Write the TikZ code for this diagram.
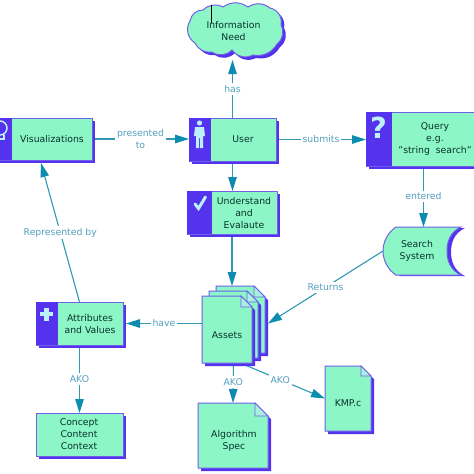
\documentclass[tikz,border=0pt]{standalone}
\usepackage{fontspec}
\setmainfont{DejaVu Sans}
\usetikzlibrary{arrows.meta,backgrounds,shadows}
\definecolor{mint}{RGB}{140,246,198}
\definecolor{violet}{RGB}{84,50,238}
\definecolor{edge}{RGB}{112,96,232}
\definecolor{teal}{RGB}{48,152,180}
\definecolor{tip}{RGB}{14,140,176}
\definecolor{tagtext}{RGB}{84,160,190}
\definecolor{inktext}{RGB}{8,50,44}
\definecolor{icon}{RGB}{190,240,250}
\definecolor{fold}{RGB}{170,240,225}
\tikzset{
  card/.style={draw=edge, line width=1pt, fill=mint, inner sep=0pt, outer sep=0pt,
    copy shadow={shadow xshift=3pt, shadow yshift=-3pt, fill=violet, draw=none}},
  tab/.style={fill=violet},
  hold/.style={inner sep=0pt, outer sep=0pt},
  words/.style={text=inktext, align=center, inner sep=0pt, font=\fontsize{9.3}{12}\selectfont},
  link/.style={draw=teal, line width=1.1pt, -{Triangle[length=14pt,width=8.5pt,color=tip]}},
  tag/.style={fill=white, text=tagtext, align=center, inner sep=2pt, font=\fontsize{9.3}{12}\selectfont},
  glyph/.style={draw=icon, line cap=round},
}
\newcommand{\docsheet}[5]{%
  \fill[violet] (#1+3,#2+3) -- (#3-#5+3,#2+3) -- (#3+3,#2+#5+3) -- (#3+3,#4+3) -- (#1+3,#4+3) -- cycle;
  \draw[edge, fill=mint, line width=1pt] (#1,#2) -- (#3-#5,#2) -- (#3,#2+#5) -- (#3,#4) -- (#1,#4) -- cycle;
  \draw[edge, fill=fold, line width=0.8pt] (#3-#5,#2) -- (#3-#5,#2+#5) -- (#3,#2+#5) -- cycle;
}
\newcommand{\searchoutline}{(396,227) -- (461,227) .. controls (450,232) and (447,242) .. (447,251) .. controls (447,260) and (450,270) .. (461,275) -- (396,275) .. controls (388,270) and (383,260) .. (383,251) .. controls (383,242) and (388,232) .. (396,227) -- cycle}
\newcommand{\cloudoutline}{(190,21) to[bend left=40] (203,10) to[bend left=35] (223,7) to[bend left=35] (248,7) to[bend left=35] (270,8) to[bend left=45] (281,25) to[bend left=40] (277,44) to[bend left=35] (253,55) to[bend left=40] (232,50) to[bend left=40] (212,52) to[bend left=35] (195,43) to[bend left=45] (190,21) -- cycle}

\begin{document}
\begin{tikzpicture}[x=1pt, y=-1pt]
  \useasboundingbox (0,0) rectangle (474,474);
  \clip (0,0) rectangle (474,474);
  %% 1. Cloud
  \fill[violet, shift={(3,3)}] \cloudoutline;
  \draw[edge, fill=mint, line width=1pt] \cloudoutline;
  \node[hold, minimum width=95pt, minimum height=52pt] (need) at (234.5,31) {};
  \node[words] (needtext) at (233.5,31) {Information\\Need};
  \draw[black, line width=0.8pt] (211,5) -- (211,23);
  %% 2. Boxes with a tab
  \node[card, minimum width=102pt, minimum height=42pt] (vis) at (41,139) {};
  \fill[tab] (vis.north west) rectangle (12,160);
  \node[words] (vistext) at (52,139.5) {Visualizations};
  \draw[glyph, line width=1.5pt] (0,128) circle (7pt);
  \draw[glyph, line width=1.5pt] (-2,135) -- (-2,139) -- (4,139) -- (4,135);

  \node[card, minimum width=87pt, minimum height=43pt] (user) at (232.5,139.5) {};
  \fill[tab] (user.north west) rectangle (211,161);
  \node[words] (usertext) at (243,139.5) {User};
  \fill[icon] (199.5,123) circle (2.6pt);
  \fill[icon] (195,127) -- (204,127) -- (205,136) -- (203,136) -- (203,148) -- (200,148) -- (200,138)
    -- (199,138) -- (199,148) -- (196,148) -- (196,136) -- (194,136) -- cycle;

  \node[card, minimum width=115pt, minimum height=54pt] (query) at (423.5,139) {};
  \fill[tab] (query.north west) rectangle (392,166);
  \node[words] (querytext) at (435,139.5) {Query\\e.g.\\"string\ \ search"};
  \node[hold, text=icon, font=\fontsize{29}{29}\selectfont\bfseries] (querymark) at (378.5,128) {?};

  \node[card, minimum width=90pt, minimum height=43pt] (understand) at (232,212.5) {};
  \fill[tab] (understand.north west) rectangle (212,234);
  \node[words] (understandtext) at (244,213) {Understand\\and\\Evalaute};
  \draw[glyph, line width=3pt] (195,204) -- (198.5,208.5) -- (205.5,197);

  \node[card, minimum width=87pt, minimum height=43pt] (attr) at (79.5,323.5) {};
  \fill[tab] (attr.north west) rectangle (58,345);
  \node[words] (attrtext) at (90,324) {Attributes\\and Values};
  \draw[glyph, line width=4.5pt, line cap=butt] (40,314) -- (53,314);
  \draw[glyph, line width=4.5pt, line cap=butt] (46.5,307.5) -- (46.5,320.5);

  \node[card, minimum width=87pt, minimum height=43pt] (concept) at (79.5,434.5) {};
  \node[words] (concepttext) at (79,434) {Concept\\Content\\Context};
  %% 3. Search system
  \fill[violet, shift={(4,1)}] \searchoutline;
  \draw[edge, fill=mint, line width=1pt] \searchoutline;
  \node[hold, minimum width=82pt, minimum height=48pt] (search) at (424,251) {};
  \node[words] (searchtext) at (417,250.5) {Search\\System};
  %% 4. Sheets
  \docsheet{216}{286}{265}{353}{11}
  \docsheet{209}{291}{258}{358}{11}
  \docsheet{202}{296}{252}{363}{11}
  \node[hold, minimum width=63pt, minimum height=75pt] (assets) at (233.5,323.5) {};
  \node[words] (assetstext) at (227,335) {Assets};
  \docsheet{198}{403}{268}{468}{13}
  \node[hold, minimum width=70pt, minimum height=65pt] (algo) at (233,435.5) {};
  \node[words] (algotext) at (234,441) {Algorithm\\Spec};
  \docsheet{325}{366}{371}{431}{10}
  \node[hold, minimum width=46pt, minimum height=65pt] (kmp) at (348,398.5) {};
  \node[words] (kmptext) at (348,403) {KMP.c};
  %% 5. Connectors
  \begin{scope}[on background layer]
    \draw[link] (user.north) -- node[tag] {has} ([yshift=-3pt]user.north |- need.south);
    \draw[link] (vis.east) -- node[tag] {presented\\to} (user.west |- vis.east);
    \draw[link] (user.east) -- node[tag] {submits} (query.west |- user.east);
    \draw[link] (user.south) -- (user.south |- understand.north);
    \draw[link] (understand.south) -- (understand.south |- assets.north);
    \draw[link] (query.south) -- node[tag] {entered} (query.south |- search.north);
    \draw[link] (search.west) -- node[tag] {Returns} ([xshift=3pt]assets.east);
    \draw[link] (assets.west) -- node[tag] {have} ([xshift=3pt]attr.east);
    \draw[link] (attr.north) -- node[tag] {Represented by} ([yshift=-3pt]vis.south);
    \draw[link] (attr.south) -- node[tag] {AKO} (concept.north);
    \draw[link] (assets.south) -- node[tag] {AKO} (algo.north);
    \draw[link] ([xshift=2pt]assets.south) -- node[tag] {AKO} (kmp.west);
  \end{scope}
\end{tikzpicture}
\end{document}
